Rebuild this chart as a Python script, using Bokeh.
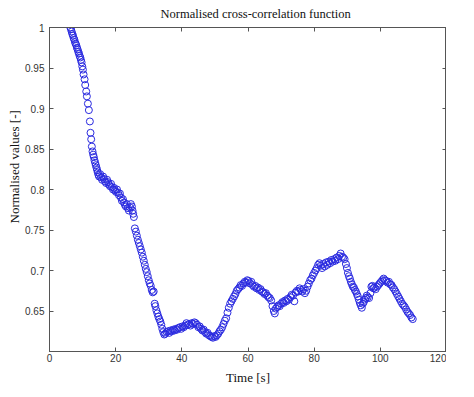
from bokeh.plotting import figure
from bokeh.models import Range1d, LinearAxis, FixedTicker, Title
from bokeh.embed import file_html
from bokeh.resources import INLINE

time_s = [
    6.3, 6.5, 6.7, 6.9, 7.1, 7.3, 7.5, 7.7, 7.9, 8.1, 8.3, 8.5, 8.7, 8.9, 9.1, 9.3, 9.5, 9.7, 9.9, 10.1,
    10.3, 10.6, 10.8, 11.1, 11.3, 11.6, 11.9, 12.2, 12.4, 12.6, 12.8, 13.0, 13.2, 13.4, 13.6, 13.8, 14.0,
    14.2, 14.4, 14.6, 14.8, 15.0,
    15.3, 15.6, 15.9, 16.2, 16.5, 16.8, 17.1, 17.4, 17.7, 18.0, 18.3, 18.6, 18.9, 19.2, 19.5, 19.8, 20.1,
    20.4, 20.7, 21.0, 21.3, 21.6, 21.9, 22.2, 22.5, 22.8, 23.1, 23.4, 23.7, 24.0, 24.3, 24.6, 24.9, 25.1,
    25.3, 25.5,
    25.8, 26.1, 26.4, 26.7, 27.0, 27.3, 27.6, 27.9, 28.2, 28.5, 28.8, 29.1, 29.4, 29.7, 30.0, 30.3, 30.6,
    30.9, 31.2, 31.5, 31.8, 32.0, 32.3, 32.6, 32.9, 33.2, 33.5, 33.8, 34.1, 34.4, 34.7, 35.0,
    35.4, 35.8, 36.2, 36.6, 37.0, 37.4, 37.8, 38.2, 38.6, 39.0, 39.4, 39.8, 40.2, 40.6, 41.0, 41.4, 41.8,
    42.2, 42.6, 43.0, 43.4, 43.8, 44.2, 44.6, 45.0, 45.4, 45.8, 46.2, 46.6, 47.0, 47.4, 47.8, 48.2, 48.6,
    49.0, 49.4, 49.8, 50.2, 50.6, 51.0, 51.4, 51.8, 52.2, 52.6, 53.0, 53.4,
    53.8, 54.2, 54.6, 55.0, 55.4, 55.8, 56.2, 56.6, 57.0, 57.4, 57.8, 58.2, 58.6, 59.0, 59.4, 59.8, 60.2,
    60.6, 61.0, 61.4, 61.8, 62.2, 62.6, 63.0, 63.4, 63.8, 64.2, 64.6, 65.0, 65.4, 65.8, 66.2, 66.6, 67.0,
    67.4, 67.8, 68.1,
    68.4, 68.8, 69.2, 69.6, 70.0, 70.4, 70.8, 71.2, 71.6, 72.0, 72.4, 72.8, 73.2, 73.6, 74.0, 74.4, 74.8,
    75.2, 75.6, 76.0, 76.4, 76.8, 77.2, 77.6, 78.0, 78.4, 78.8, 79.2, 79.6, 80.0, 80.4, 80.8, 81.2, 81.6,
    82.0, 82.4, 82.8, 83.2, 83.6, 84.0, 84.4, 84.8, 85.2, 85.6, 86.0, 86.4, 86.8, 87.2, 87.6, 88.0, 88.4,
    88.8, 89.2,
    89.6, 89.9, 90.2, 90.5, 90.8, 91.1, 91.4, 91.7, 92.0, 92.3, 92.6, 92.9, 93.2, 93.5, 93.8, 94.1, 94.4,
    94.7, 95.0, 95.3, 95.6, 95.9, 96.2, 96.6, 97.0, 97.3, 97.6, 97.9, 98.2, 98.6, 99.0, 99.4, 99.8, 100.2,
    100.6, 101.0, 101.4, 101.8, 102.2, 102.6, 103.0, 103.4, 103.8, 104.2, 104.6, 105.0, 105.4, 105.8,
    106.2, 106.6, 107.0, 107.4, 107.8, 108.2, 108.6, 109.0, 109.4, 109.8,
]

norm_values = [
    1.000, 0.998, 0.995, 0.992, 0.990, 0.987, 0.985, 0.982, 0.980, 0.978, 0.975, 0.973, 0.970, 0.968, 0.965,
    0.963, 0.960, 0.957, 0.952, 0.948, 0.942, 0.936, 0.929, 0.921, 0.915, 0.906, 0.898, 0.884, 0.870, 0.862,
    0.853, 0.847, 0.843, 0.840, 0.836, 0.833, 0.830, 0.827, 0.824, 0.821, 0.818, 0.816,
    0.819, 0.815, 0.812, 0.816, 0.813, 0.810, 0.808, 0.812, 0.809, 0.806, 0.804, 0.807, 0.803, 0.800, 0.802,
    0.799, 0.797, 0.800, 0.796, 0.793, 0.795, 0.790, 0.786, 0.788, 0.784, 0.781, 0.779, 0.782, 0.777, 0.774,
    0.778, 0.782, 0.779, 0.774, 0.770, 0.766,
    0.752, 0.748, 0.743, 0.738, 0.734, 0.730, 0.726, 0.722, 0.717, 0.712, 0.707, 0.702, 0.698, 0.693, 0.688,
    0.684, 0.681, 0.676, 0.673, 0.674, 0.659, 0.656, 0.651, 0.647, 0.643, 0.640, 0.637, 0.633, 0.628, 0.624,
    0.621, 0.622,
    0.624, 0.625, 0.623, 0.626, 0.625, 0.627, 0.626, 0.628, 0.627, 0.629, 0.630, 0.628, 0.631, 0.630, 0.632,
    0.635, 0.633, 0.634, 0.632, 0.635, 0.634, 0.636, 0.635, 0.633, 0.630, 0.631, 0.628, 0.626, 0.627, 0.624,
    0.622, 0.623, 0.620, 0.619, 0.618, 0.617, 0.619, 0.618, 0.620, 0.622, 0.625, 0.627, 0.630, 0.634, 0.638,
    0.641,
    0.648, 0.654, 0.659, 0.662, 0.665, 0.668, 0.671, 0.675, 0.677, 0.679, 0.682, 0.681, 0.684, 0.686, 0.685,
    0.688, 0.687, 0.684, 0.686, 0.682, 0.680, 0.681, 0.678, 0.679, 0.676, 0.677, 0.674, 0.673, 0.671, 0.672,
    0.669, 0.667, 0.666, 0.663, 0.656, 0.650, 0.647,
    0.653, 0.655, 0.657, 0.656, 0.659, 0.661, 0.660, 0.663, 0.662, 0.665, 0.664, 0.667, 0.670, 0.669, 0.662,
    0.673, 0.675, 0.674, 0.678, 0.676, 0.674, 0.677, 0.672, 0.675, 0.680, 0.684, 0.688, 0.690, 0.694, 0.697,
    0.700, 0.703, 0.707, 0.709, 0.706, 0.703, 0.708, 0.705, 0.710, 0.707, 0.711, 0.709, 0.713, 0.711, 0.714,
    0.712, 0.716, 0.714, 0.718, 0.721, 0.717, 0.716, 0.714,
    0.708, 0.703, 0.697, 0.693, 0.690, 0.686, 0.683, 0.680, 0.679, 0.676, 0.674, 0.671, 0.668, 0.664, 0.660,
    0.657, 0.654, 0.659, 0.661, 0.664, 0.666, 0.669, 0.667, 0.666, 0.672, 0.680, 0.681, 0.678, 0.679, 0.677,
    0.680, 0.682, 0.684, 0.686, 0.688, 0.690, 0.688, 0.687, 0.685, 0.686, 0.683, 0.682, 0.679, 0.677, 0.674,
    0.671, 0.668, 0.665, 0.662, 0.659, 0.657, 0.655, 0.652, 0.649, 0.647, 0.645, 0.642, 0.640,
]

x_ticks = [0, 20, 40, 60, 80, 100, 120]
y_ticks = [0.65, 0.7, 0.75, 0.8, 0.85, 0.9, 0.95, 1.0]
y_tick_labels = {0.65: "0.65", 0.7: "0.7", 0.75: "0.75", 0.8: "0.8", 0.85: "0.85", 0.9: "0.9", 0.95: "0.95", 1.0: "1"}

p = figure(frame_width=397, frame_height=324, output_backend="svg", toolbar_location=None,
           x_range=Range1d(0, 120), y_range=Range1d(0.6, 1.0),
           min_border_left=49, min_border_right=0, min_border_top=27, min_border_bottom=30)

p.title.text = "Normalised cross-correlation function"
p.title.align = "left"
p.title.offset = 111
p.title.vertical_align = "top"
p.title.text_font = "Liberation Serif"
p.title.text_font_size = "12.5px"
p.title.text_font_style = "normal"
p.title.text_color = "#111111"
p.title.standoff = 10

p.xgrid.visible = False
p.ygrid.visible = False
p.outline_line_color = "#555555"
p.outline_line_width = 1
p.background_fill_color = "white"
p.border_fill_color = "white"

p.scatter(time_s, norm_values, marker="circle", size=7, fill_color=None,
          line_color="#2a2ae0", line_width=1)

for ax in (p.xaxis[0], p.yaxis[0]):
    ax.major_tick_in = 4
    ax.major_tick_out = 0
    ax.minor_tick_in = 0
    ax.minor_tick_out = 0
    ax.axis_line_color = "#555555"
    ax.major_tick_line_color = "#555555"
    ax.major_label_text_font = "Liberation Sans"
    ax.major_label_text_font_size = "10px"
    ax.major_label_text_color = "#333333"
    ax.axis_label_text_font = "Liberation Serif"
    ax.axis_label_text_font_size = "13px"
    ax.axis_label_text_font_style = "normal"
    ax.axis_label_text_color = "#111111"

p.xaxis[0].ticker = FixedTicker(ticks=x_ticks)
p.yaxis[0].ticker = FixedTicker(ticks=y_ticks)
p.yaxis[0].major_label_overrides = y_tick_labels
p.xaxis[0].axis_label = "Time [s]"
p.xaxis[0].major_label_standoff = 2
p.yaxis[0].major_label_standoff = 5
p.xaxis[0].axis_label_standoff = 5

ylab = Title(text="Normalised values [-]", align="left", offset=128,
             text_font="Liberation Serif", text_font_size="13px",
             text_font_style="normal", text_color="#111111", standoff=2)
p.add_layout(ylab, "left")

right = LinearAxis(ticker=FixedTicker(ticks=y_ticks),
                   major_label_overrides={t: "" for t in y_ticks},
                   major_label_text_font_size="1px",
                   major_label_standoff=0, axis_label_standoff=0,
                   major_tick_in=4, major_tick_out=0, minor_tick_in=0, minor_tick_out=0,
                   axis_line_color="#555555", major_tick_line_color="#555555")
top = LinearAxis(ticker=FixedTicker(ticks=x_ticks),
                 major_label_overrides={t: "" for t in x_ticks},
                 major_label_text_font_size="1px",
                 major_label_standoff=0, axis_label_standoff=0,
                 major_tick_in=4, major_tick_out=0, minor_tick_in=0, minor_tick_out=0,
                 axis_line_color="#555555", major_tick_line_color="#555555")
p.add_layout(right, "right")
p.add_layout(top, "above")

open("out.html", "w").write(file_html(p, INLINE))
